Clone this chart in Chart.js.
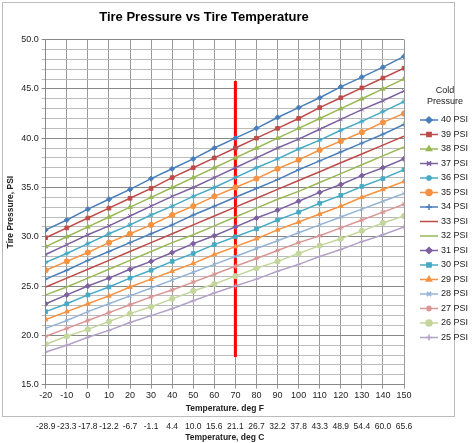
<!DOCTYPE html>
<html><head><meta charset="utf-8">
<script src="https://cdn.jsdelivr.net/npm/chart.js@4/dist/chart.umd.min.js"></script>
<style>html,body{margin:0;padding:0;background:#fff}#w{width:474px;height:443px;position:relative}</style>
</head><body><div id="w"><canvas id="c"></canvas></div>
<script>
const tempF = [-20,-10,0,10,20,30,40,50,60,70,80,90,100,110,120,130,140,150];
const tempCLabels = ["-28.9","-23.3","-17.8","-12.2","-6.7","-1.1","4.4","10.0","15.6","21.1","26.7","32.2","37.8","43.3","48.9","54.4","60.0","65.6"];
const seriesNames = ["40 PSI","39 PSI","38 PSI","37 PSI","36 PSI","35 PSI","34 PSI","33 PSI","32 PSI","31 PSI","30 PSI","29 PSI","28 PSI","27 PSI","26 PSI","25 PSI"];
const psi40 = [30.7,31.7,32.8,33.8,34.8,35.9,36.9,37.9,39.0,40.0,41.0,42.1,43.1,44.1,45.2,46.2,47.2,48.3];
const psi39 = [29.9,30.9,31.9,32.9,33.9,34.9,36.0,37.0,38.0,39.0,40.0,41.0,42.0,43.1,44.1,45.1,46.1,47.1];
const psi38 = [29.0,30.0,31.0,32.0,33.0,34.0,35.0,36.0,37.0,38.0,39.0,40.0,41.0,42.0,43.0,44.0,45.0,46.0];
const psi37 = [28.2,29.2,30.2,31.1,32.1,33.1,34.1,35.0,36.0,37.0,38.0,39.0,39.9,40.9,41.9,42.9,43.8,44.8];
const psi36 = [27.4,28.3,29.3,30.3,31.2,32.2,33.1,34.1,35.0,36.0,37.0,37.9,38.9,39.8,40.8,41.7,42.7,43.7];
const psi35 = [26.6,27.5,28.4,29.4,30.3,31.2,32.2,33.1,34.1,35.0,35.9,36.9,37.8,38.8,39.7,40.6,41.6,42.5];
const psi34 = [25.7,26.6,27.6,28.5,29.4,30.3,31.2,32.2,33.1,34.0,34.9,35.8,36.8,37.7,38.6,39.5,40.4,41.4];
const psi33 = [24.9,25.8,26.7,27.6,28.5,29.4,30.3,31.2,32.1,33.0,33.9,34.8,35.7,36.6,37.5,38.4,39.3,40.2];
const psi32 = [24.1,24.9,25.8,26.7,27.6,28.5,29.4,30.2,31.1,32.0,32.9,33.8,34.6,35.5,36.4,37.3,38.2,39.1];
const psi31 = [23.2,24.1,25.0,25.8,26.7,27.5,28.4,29.3,30.1,31.0,31.9,32.7,33.6,34.5,35.3,36.2,37.0,37.9];
const psi30 = [22.4,23.2,24.1,24.9,25.8,26.6,27.5,28.3,29.2,30.0,30.8,31.7,32.5,33.4,34.2,35.1,35.9,36.8];
const psi29 = [21.6,22.4,23.2,24.0,24.9,25.7,26.5,27.3,28.2,29.0,29.8,30.7,31.5,32.3,33.1,34.0,34.8,35.6];
const psi28 = [20.7,21.5,22.4,23.2,24.0,24.8,25.6,26.4,27.2,28.0,28.8,29.6,30.4,31.2,32.0,32.8,33.6,34.4];
const psi27 = [19.9,20.7,21.5,22.3,23.1,23.9,24.6,25.4,26.2,27.0,27.8,28.6,29.4,30.1,30.9,31.7,32.5,33.3];
const psi26 = [19.1,19.9,20.6,21.4,22.2,22.9,23.7,24.5,25.2,26.0,26.8,27.5,28.3,29.1,29.8,30.6,31.4,32.1];
const psi25 = [18.3,19.0,19.8,20.5,21.3,22.0,22.7,23.5,24.3,25.0,25.7,26.5,27.2,28.0,28.7,29.5,30.2,31.0];
const refLineX = [70,70];
const refLineY = [17.8,45.8];

const allSeries=[psi40,psi39,psi38,psi37,psi36,psi35,psi34,psi33,psi32,psi31,psi30,psi29,psi28,psi27,psi26,psi25];
const colors=["#4A7EBB","#BE4B48","#98B954","#7D60A0","#46AAC5","#F69240","#4A7EBB","#BE4B48","#98B954","#7D60A0","#46AAC5","#F69240","#95B3D7","#D99694","#C3D69B","#B3A2C7"];
const styles=["rectRot","rect","triangle","crossRot","star","circle","cross",null,null,"rectRot","rect","triangle","crossRot","star","circle","cross"];
const FONT="'Liberation Sans', Arial, sans-serif";
const datasets=allSeries.map((s,i)=>{
  const st=styles[i];
  return {label:seriesNames[i],data:s.map((v,j)=>({x:tempF[j],y:v})),borderColor:colors[i],backgroundColor:colors[i],
    borderWidth:1.5,pointStyle:st||false,pointRadius:st?2.6:0,pointBorderWidth:1,tension:0,_ps:st};
});
datasets.push({label:'ref',data:refLineX.map((x,i)=>({x:x,y:refLineY[i]})),borderColor:'#FF0000',borderWidth:3,pointRadius:0,_skip:true});

const bgPlugin={id:'bg',beforeDraw(c){const x=c.ctx;x.save();x.fillStyle='#fff';x.fillRect(0,0,c.width,c.height);x.strokeStyle='#bbb';x.lineWidth=1;x.strokeRect(2.5,2.5,452,414);x.restore();}};
const legendPlugin={id:'lg',afterDraw(c){const x=c.ctx;x.save();x.font="9px "+FONT;x.fillStyle='#222';x.textAlign='center';
  x.fillText('Cold',445,93);x.fillText('Pressure',445,104);x.textAlign='left';x.textBaseline='middle';
  datasets.forEach((d,i)=>{if(d._skip)return;const y=120+i*14.5;x.strokeStyle=d.borderColor;x.lineWidth=1.5;x.beginPath();x.moveTo(420,y);x.lineTo(438,y);x.stroke();
    if(d._ps){x.fillStyle=d.borderColor;x.strokeStyle=d.borderColor;Chart.helpers.drawPoint(x,{pointStyle:d._ps,radius:3,borderWidth:1},429,y);}
    x.fillStyle='#222';x.fillText(d.label,441,y);});
  x.restore();}};

new Chart(document.getElementById('c'),{type:'line',data:{datasets},plugins:[bgPlugin,legendPlugin],
options:{responsive:true,maintainAspectRatio:false,animation:false,
layout:{padding:{left:4,right:70,top:6,bottom:0}},
plugins:{legend:{display:false},tooltip:{enabled:false},
 title:{display:true,text:'Tire Pressure vs Tire Temperature',font:{family:FONT,size:13,weight:'bold'},color:'#000',padding:{top:4,bottom:14}}},
scales:{
 x:{type:'linear',min:-20,max:150,weight:0,ticks:{stepSize:10,autoSkip:false,font:{family:FONT,size:9},color:'#222',maxRotation:0,padding:2},
   grid:{color:'#999',drawTicks:true,tickLength:4},border:{color:'#888'},
   title:{display:true,text:'Temperature. deg F',font:{family:FONT,size:8.5,weight:'bold'},color:'#222',padding:{top:0,bottom:0}}},
 x2:{type:'linear',position:'bottom',min:-20,max:150,weight:1,grid:{display:false},border:{display:false},
   ticks:{stepSize:10,autoSkip:false,font:{family:FONT,size:8.5},color:'#222',maxRotation:0,padding:0,callback:(v)=>{const i=tempF.indexOf(v);return i>=0?tempCLabels[i]:'';}},
   title:{display:true,text:'Temperature, deg C',font:{family:FONT,size:8.5,weight:'bold'},color:'#222',padding:{top:1,bottom:0}}},
 y:{min:15,max:50,ticks:{stepSize:1,autoSkip:false,font:{family:FONT,size:9},color:'#222',callback:v=>v%5===0?v.toFixed(1):''},
   grid:{color:c=>c.tick&&c.tick.value%5===0?'#888':'#bbb',tickLength:4},border:{color:'#888'},
   title:{display:true,text:'Tire Pressure, PSI',font:{family:FONT,size:8.5,weight:'bold'},color:'#222',padding:2}}
}}});
</script></body></html>
